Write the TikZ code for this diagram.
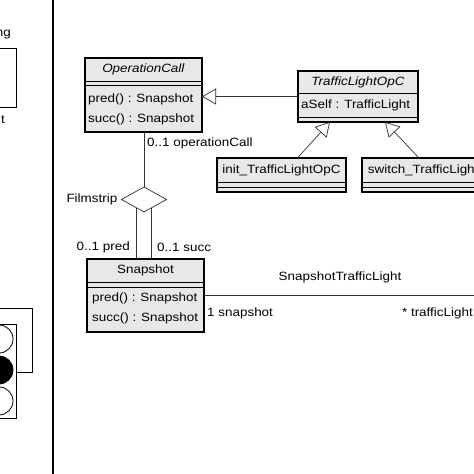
\documentclass[tikz,border=0pt]{standalone}
\usepackage{fontspec}
\setmainfont{Liberation Sans}[FakeStretch=1.12]
\usetikzlibrary{arrows.meta,shapes.geometric,positioning}

\begin{document}
\begin{tikzpicture}[x=1pt, y=-1pt,
	every node/.style={font=\fontsize{12}{14}\selectfont},
	cls/.style={draw=black, line width=1.3pt, fill=black!9, rectangle, inner sep=0pt, outer sep=0pt},
	comp/.style={line width=0.7pt},
	lbl/.style={inner sep=1pt},
	assoc/.style={draw=black!80, line width=0.7pt},
	gen/.style={draw=black!80, line width=0.7pt, -{Triangle[length=14pt, width=16pt, fill=white]}}]
	\fill[white] (0,0) rectangle (474,474);
	\useasboundingbox (0,0) rectangle (474,474);
	% Left panel (cut off)
	\node[anchor=east, inner sep=0pt] (lefttop) at (11,35) {ng};
	\draw[line width=0.8pt] (-5,48) rectangle (16,107);
	\node[anchor=east, inner sep=0pt] (leftbot) at (5,120) {t};
	\draw[line width=0.8pt] (-5,308) rectangle (32,372);
	\draw[line width=0.8pt, fill=white] (-5,324) rectangle (16,418);
	\draw[line width=0.8pt] (-1,339) circle[radius=14];
	\draw[line width=0.8pt, fill=black] (-1,370) circle[radius=14];
	\draw[line width=0.8pt] (-1,401) circle[radius=14];
	\draw[line width=1.6pt] (53,0) -- (53,474);
	% Classes
	\node[cls, minimum width=117pt, minimum height=74pt] (opcall) at (143.5,95) {};
	\node[cls, minimum width=120pt, minimum height=51pt] (tlop) at (358,96.5) {};
	\node[cls, minimum width=129pt, minimum height=34pt] (init) at (281.5,175) {};
	\node[cls, minimum width=150pt, minimum height=34pt] (switch) at (437,175) {};
	\node[cls, minimum width=117pt, minimum height=73pt] (snap) at (145.5,295.5) {};
	% Compartments
	\draw[comp] ([yshift=-23pt]opcall.north west) -- ([yshift=-23pt]opcall.north east);
	\draw[comp] ([yshift=-27pt]opcall.north west) -- ([yshift=-27pt]opcall.north east);
	\draw[comp] ([yshift=-22pt]tlop.north west) -- ([yshift=-22pt]tlop.north east);
	\draw[comp] ([yshift=-46pt]tlop.north west) -- ([yshift=-46pt]tlop.north east);
	\draw[comp] ([yshift=-24pt]init.north west) -- ([yshift=-24pt]init.north east);
	\draw[comp] ([yshift=-29pt]init.north west) -- ([yshift=-29pt]init.north east);
	\draw[comp] ([yshift=-24pt]switch.north west) -- ([yshift=-24pt]switch.north east);
	\draw[comp] ([yshift=-29pt]switch.north west) -- ([yshift=-29pt]switch.north east);
	\draw[comp] ([yshift=-23pt]snap.north west) -- ([yshift=-23pt]snap.north east);
	\draw[comp] ([yshift=-28pt]snap.north west) -- ([yshift=-28pt]snap.north east);
	% Class texts
	\node[lbl] (opcallname) at ([yshift=-11.5pt]opcall.north) {\textit{OperationCall}};
	\node[lbl, anchor=west] (opcallpred) at ([xshift=2pt, yshift=-41pt]opcall.north west) {pred() : Snapshot};
	\node[lbl, anchor=west] (opcallsucc) at ([xshift=2pt, yshift=-61pt]opcall.north west) {succ() : Snapshot};
	\node[lbl] (tlopname) at ([yshift=-11pt]tlop.north) {\textit{TrafficLightOpC}};
	\node[lbl, anchor=west] (tlopself) at ([xshift=2pt, yshift=-34pt]tlop.north west) {aSelf : TrafficLight};
	\node[lbl] (initname) at ([yshift=-12pt]init.north) {init\_TrafficLightOpC};
	\node[lbl] (switchname) at ([yshift=-12pt]switch.north) {switch\_TrafficLightOpC};
	\node[lbl] (snapname) at ([yshift=-11.5pt]snap.north) {Snapshot};
	\node[lbl, anchor=west] (snappred) at ([xshift=4pt, yshift=-39pt]snap.north west) {pred() : Snapshot};
	\node[lbl, anchor=west] (snapsucc) at ([xshift=4pt, yshift=-59pt]snap.north west) {succ() : Snapshot};
	% Generalizations
	\draw[gen] (tlop.west) -- (tlop.west -| opcall.east);
	\draw[gen] ([xshift=16pt]init.north) -- ([xshift=-28pt]tlop.south);
	\draw[gen] ([xshift=-18pt]switch.north) -- ([xshift=27pt]tlop.south);
	% Filmstrip association
	\node[draw=black!80, line width=0.7pt, fill=white, diamond, minimum width=45pt, minimum height=25pt, inner sep=0pt, outer sep=0pt] (fs) at (144,199.5) {};
	\draw[assoc] (fs.north) -- (fs.north |- opcall.south);
	\draw[assoc] (fs.228) -- (fs.228 |- snap.north);
	\draw[assoc] (fs.312) -- (fs.312 |- snap.north);
	\node[lbl, left=3pt of fs] (fsname) {Filmstrip};
	\node[lbl, anchor=west] (opcallrole) at (146,143) {0..1 operationCall};
	\node[lbl, anchor=east] (predrole) at (131,247) {0..1 pred};
	\node[lbl, anchor=west] (succrole) at (156,247) {0..1 succ};
	% SnapshotTrafficLight association
	\coordinate (tlend) at (480,295);
	\draw[assoc] (snap.east) -- (snap.east -| tlend);
	\node[lbl] (stlname) at (340,277) {SnapshotTrafficLight};
	\node[lbl, anchor=west] (snaprole) at (206,313) {1 snapshot};
	\node[lbl, anchor=east] (tlrole) at (474,313) {* trafficLight};
\end{tikzpicture}
\end{document}
